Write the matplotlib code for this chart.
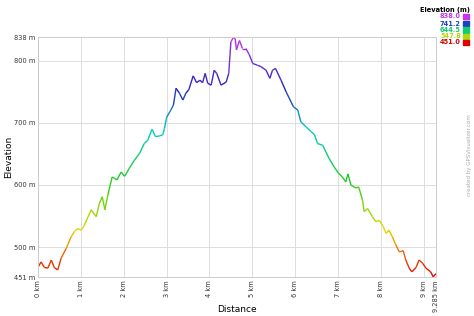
import numpy as np
import matplotlib
matplotlib.use("Agg")
import matplotlib.pyplot as plt
from matplotlib.collections import LineCollection
from matplotlib.colors import LinearSegmentedColormap, Normalize
from matplotlib.patches import Rectangle

dist_km = [0, 0.07, 0.15, 0.23, 0.31, 0.38, 0.46, 0.54, 0.66, 0.77,
           0.85, 0.93, 1.01, 1.08, 1.24, 1.36, 1.43, 1.50, 1.56, 1.63,
           1.73, 1.78, 1.84, 1.94, 2.02, 2.13, 2.25, 2.37, 2.48, 2.56,
           2.66, 2.74, 2.83, 2.91, 2.95, 3.00, 3.10, 3.16, 3.22, 3.30,
           3.38, 3.45, 3.52, 3.62, 3.70, 3.78, 3.84, 3.90, 3.96, 4.04,
           4.11, 4.17, 4.27, 4.39, 4.45, 4.50, 4.56, 4.60, 4.63, 4.70,
           4.77, 4.85, 4.93, 5.01, 5.12, 5.20, 5.32, 5.41, 5.47, 5.54,
           5.67, 5.79, 5.96, 6.06, 6.13, 6.25, 6.37, 6.45, 6.52, 6.64,
           6.79, 6.91, 7.01, 7.10, 7.18, 7.23, 7.30, 7.42, 7.48, 7.57,
           7.61, 7.69, 7.80, 7.88, 7.96, 8.04, 8.12, 8.19, 8.27, 8.35,
           8.43, 8.52, 8.58, 8.66, 8.72, 8.82, 8.89, 8.97, 9.05, 9.16,
           9.22, 9.285]
elev_m = [467, 476, 467, 466, 479, 467, 463, 482, 498, 516,
          525, 530, 527, 535, 560, 549, 570, 581, 560, 584,
          613, 611, 608, 621, 614, 627, 640, 651, 667, 672,
          690, 678, 679, 681, 691, 709, 721, 729, 756, 748,
          737, 748, 754, 776, 765, 769, 765, 780, 764, 761,
          785, 780, 761, 766, 780, 831, 838, 836, 818, 833,
          820, 820, 810, 796, 793, 791, 785, 772, 785, 788,
          769, 750, 726, 721, 702, 694, 686, 681, 667, 664,
          643, 629, 619, 613, 605, 618, 600, 595, 597, 576,
          557, 562, 549, 541, 543, 535, 522, 527, 516, 503,
          492, 494, 479, 466, 460, 467, 479, 474, 466, 460,
          452, 457]

x_ticks = [0, 1, 2, 3, 4, 5, 6, 7, 8, 9, 9.285]
x_labels = ["0 km", "1 km", "2 km", "3 km", "4 km", "5 km", "6 km", "7 km",
            "8 km", "9 km", "9.285 km"]
y_ticks = [451, 500, 600, 700, 800, 838]
y_labels = ["451 m", "500 m", "600 m", "700 m", "800 m", "838 m"]
legend_values = [838.0, 741.2, 644.5, 547.8, 451.0]

cmap = LinearSegmentedColormap.from_list("elev", [
    (0.0, "#dd0000"), (0.10, "#ee6600"), (0.20, "#dddd00"),
    (0.40, "#22cc22"), (0.62, "#00cccc"), (0.78, "#2222bb"),
    (0.90, "#6633cc"), (1.0, "#cc33ee")])
norm = Normalize(vmin=451, vmax=838)

fig = plt.figure(figsize=(4.74, 3.16), dpi=100)
ax = fig.add_axes([38/474, 1-277.4/316, (436-38)/474, (277.4-37.4)/316])

x = np.array(dist_km)
y = np.array(elev_m)
pts = np.column_stack([x, y]).reshape(-1, 1, 2)
segs = np.concatenate([pts[:-1], pts[1:]], axis=1)
lc = LineCollection(segs, cmap=cmap, norm=norm, linewidth=1.0)
lc.set_array((y[:-1] + y[1:]) / 2)
ax.add_collection(lc)

ax.set_xlim(0, 9.285)
ax.set_ylim(451, 838)
ax.set_xticks(x_ticks)
ax.set_xticklabels(x_labels, rotation=90, fontsize=4.8, color="#333333")
ax.set_yticks(y_ticks)
ax.set_yticklabels(y_labels, fontsize=4.8, color="#333333")
ax.tick_params(length=0, pad=2)
ax.grid(True, color="#dddddd", linewidth=0.7)
ax.set_axisbelow(True)
for s in ax.spines.values():
    s.set_color("#cccccc")
    s.set_linewidth(0.7)

fig.text(237/474, 1-310/316, "Distance", fontsize=6.5, ha="center", va="center")
fig.text(9/474, 1-157/316, "Elevation", fontsize=6.5, rotation=90,
         ha="center", va="center")

fig.text(470/474, 1-10/316, "Elevation (m)", fontsize=4.8, fontweight="bold",
         ha="right", va="center")
ly = [16.5, 23.5, 30, 36.5, 42.5]
for v, yy in zip(legend_values, ly):
    c = cmap(norm(v))
    fig.text(461/474, 1-yy/316, f"{v:.1f}", fontsize=4.8, fontweight="bold",
             color=c, ha="right", va="center")
    fig.patches.append(Rectangle((463/474, 1-(yy+2.8)/316), 6/474, 5.6/316,
                                 transform=fig.transFigure, color=c))

fig.text(469/474, 1-155/316, "created by GPSVisualizer.com", fontsize=4,
         color="#aaaaaa", rotation=90, ha="center", va="center")

fig.savefig("out.png", dpi=100)
